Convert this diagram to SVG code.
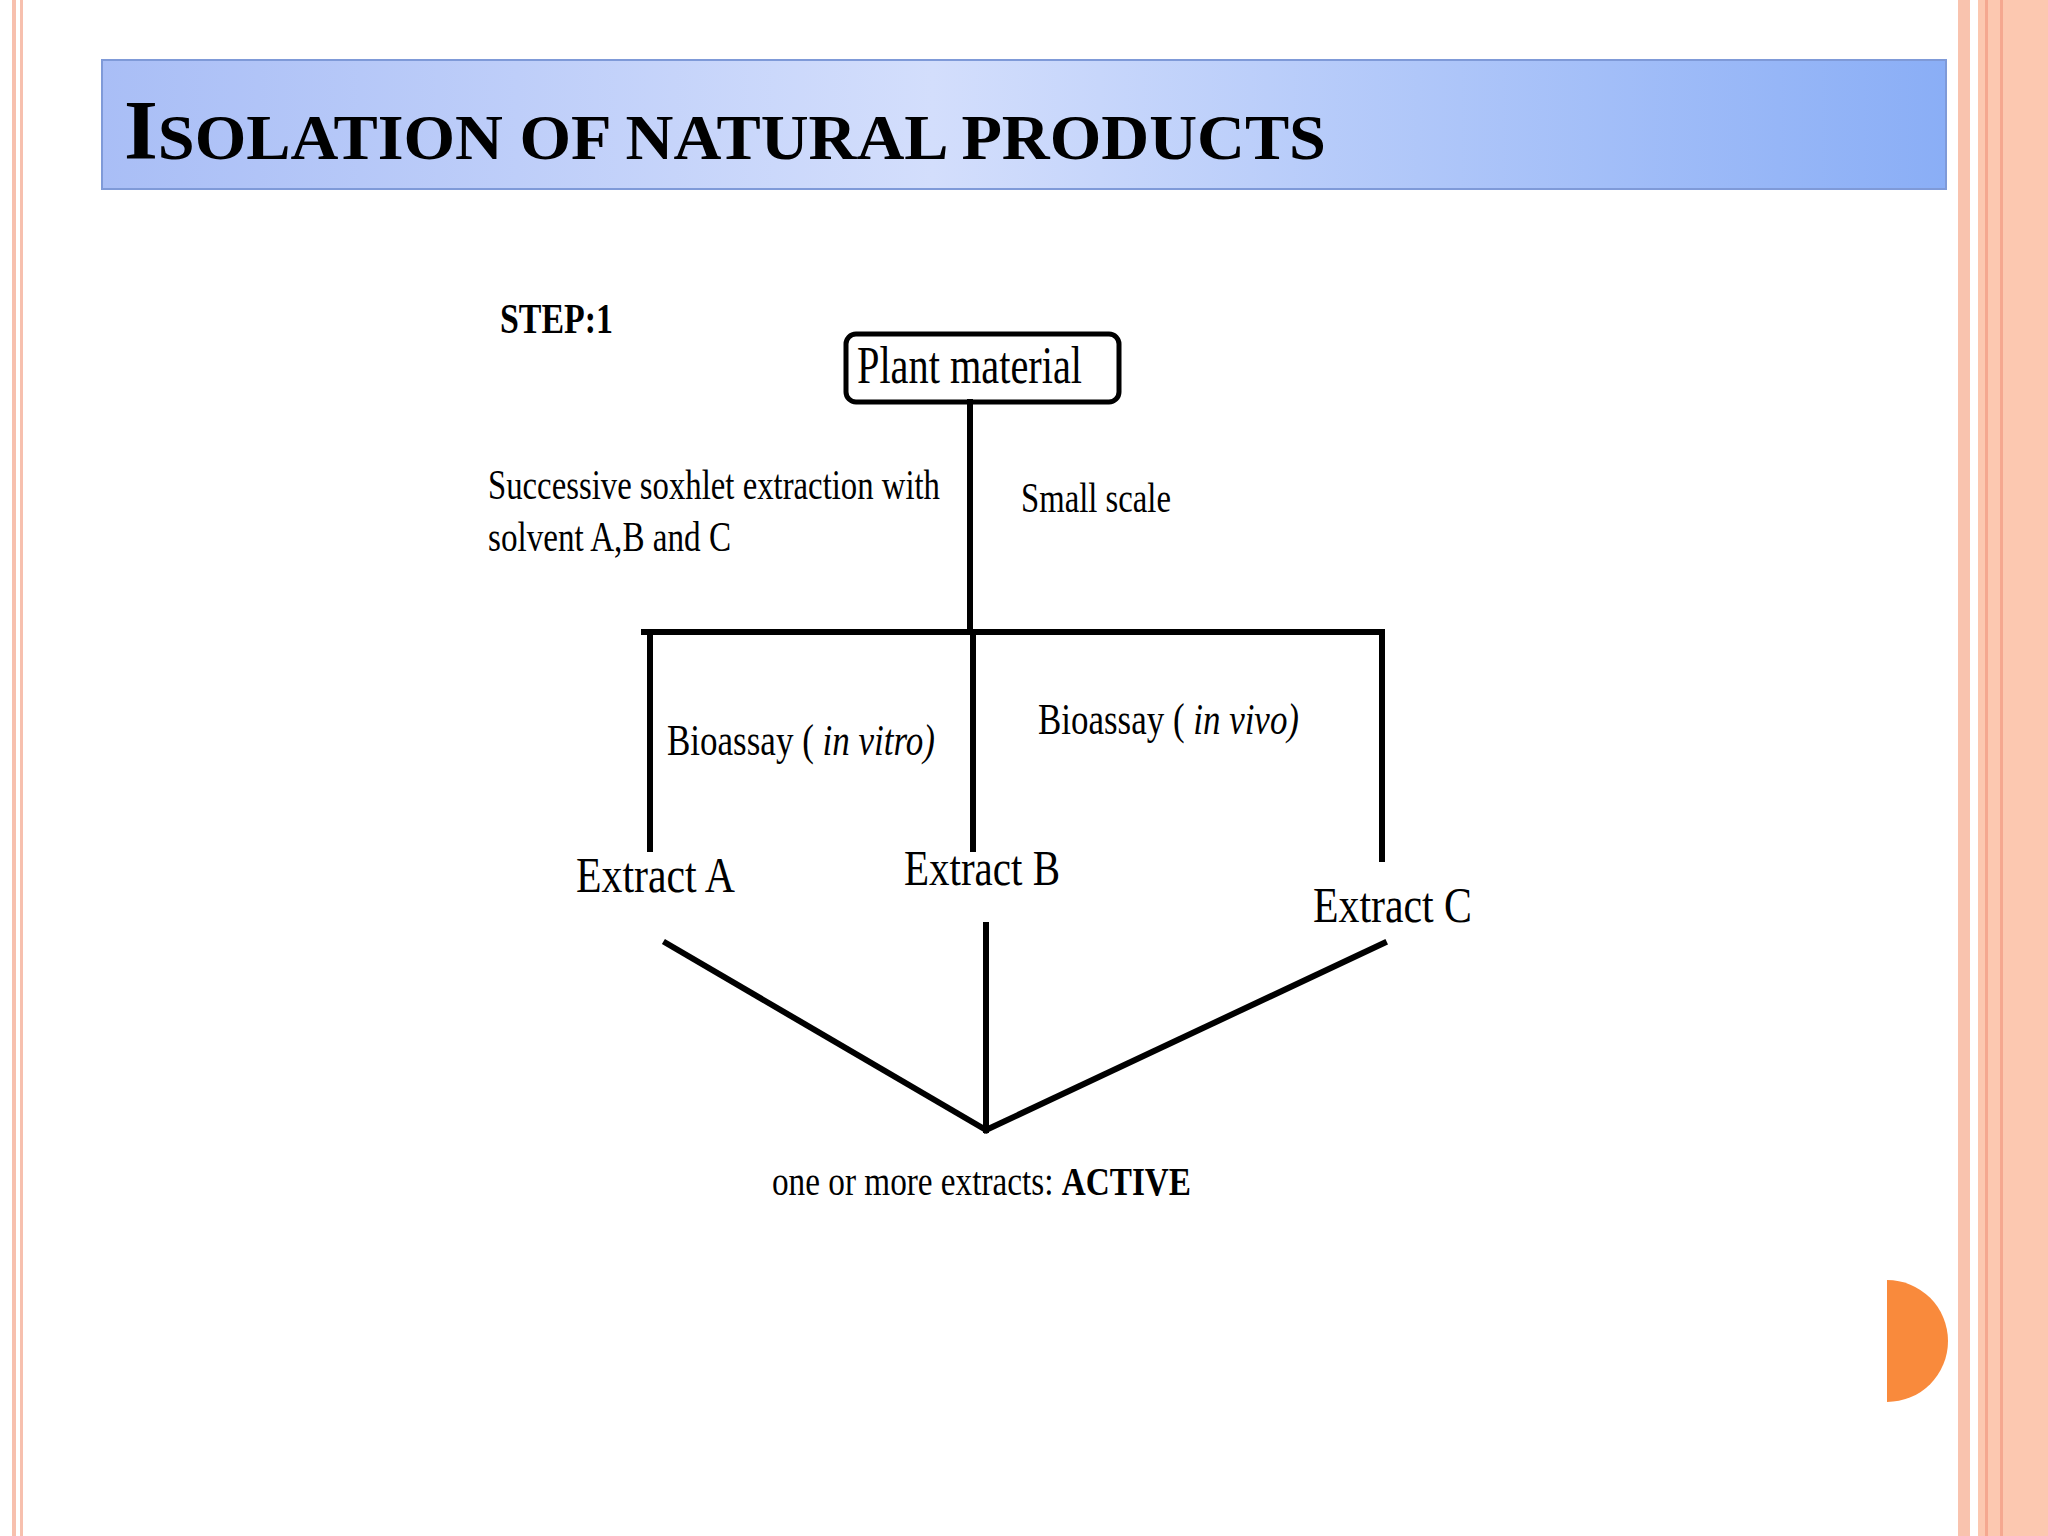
<svg xmlns="http://www.w3.org/2000/svg" width="2048" height="1536" viewBox="0 0 2048 1536">
<defs>
<linearGradient id="tb" x1="0" y1="0" x2="1" y2="0">
<stop offset="0" stop-color="#a9bef6"/><stop offset="0.45" stop-color="#d3defc"/><stop offset="1" stop-color="#8aaef6"/>
</linearGradient>
<style>
.t{font-family:"Liberation Serif",serif;fill:#000}
.ln{stroke:#000;stroke-width:6;fill:none;stroke-linecap:square}
</style>
</defs>
<rect width="2048" height="1536" fill="#fff"/>
<g id="border">
<rect x="12" y="0" width="4" height="1536" fill="#f7c0ae"/>
<rect x="20" y="0" width="3" height="1536" fill="#f7c0ae"/>
<rect x="1958" y="0" width="12" height="1536" fill="#f9c3ae"/>
<rect x="1978" y="0" width="70" height="1536" fill="#fcc8b0"/>
<rect x="1985" y="0" width="3" height="1536" fill="#f5a890"/>
<rect x="2000" y="0" width="3" height="1536" fill="#f5a890"/>
<path d="M1887,1280 A61,61 0 0 1 1887,1402 Z" fill="#f98a3c"/>
</g>
<g id="title">
<rect x="102" y="60" width="1844" height="129" fill="url(#tb)" stroke="#7f9ad8" stroke-width="2"/>
<text class="t" x="124" y="159" font-weight="bold" textLength="1202" lengthAdjust="spacingAndGlyphs"><tspan font-size="84">I</tspan><tspan font-size="64">SOLATION OF NATURAL PRODUCTS</tspan></text>
</g>
<g id="step"><text class="t" x="500" y="333" font-size="42" font-weight="bold" textLength="113" lengthAdjust="spacingAndGlyphs">STEP:1</text></g>
<g id="plant">
<rect x="846" y="334" width="273" height="68" rx="10" fill="#fff" stroke="#000" stroke-width="5"/>
<text class="t" x="857" y="383" font-size="52" textLength="225" lengthAdjust="spacingAndGlyphs">Plant material</text>
</g>
<g id="connectors">
<line class="ln" x1="970" y1="402" x2="970" y2="627"/>
<line class="ln" x1="644" y1="632" x2="1380" y2="632"/>
<line class="ln" x1="650" y1="632" x2="650" y2="849"/>
<line class="ln" x1="973" y1="632" x2="973" y2="849"/>
<line class="ln" x1="1382" y1="632" x2="1382" y2="859"/>
<line class="ln" x1="666" y1="943" x2="986" y2="1130"/>
<line class="ln" x1="986" y1="925" x2="986" y2="1130"/>
<line class="ln" x1="1384" y1="943" x2="986" y2="1130"/>
</g>
<g id="labels">
<text class="t" x="488" y="499" font-size="42" textLength="452" lengthAdjust="spacingAndGlyphs">Successive soxhlet extraction with</text>
<text class="t" x="488" y="551" font-size="42" textLength="243" lengthAdjust="spacingAndGlyphs">solvent A,B and C</text>
<text class="t" x="1021" y="512" font-size="42" textLength="150" lengthAdjust="spacingAndGlyphs">Small scale</text>
<text class="t" x="667" y="755" font-size="44" textLength="268" lengthAdjust="spacingAndGlyphs">Bioassay ( <tspan font-style="italic">in vitro)</tspan></text>
<text class="t" x="1038" y="734" font-size="44" textLength="261" lengthAdjust="spacingAndGlyphs">Bioassay ( <tspan font-style="italic">in vivo)</tspan></text>
<text class="t" x="772" y="1195" font-size="40" textLength="419" lengthAdjust="spacingAndGlyphs">one or more extracts: <tspan font-weight="bold">ACTIVE</tspan></text>
</g>
<g id="extractA"><text class="t" x="576" y="892" font-size="50" textLength="159" lengthAdjust="spacingAndGlyphs">Extract A</text></g>
<g id="extractB"><text class="t" x="904" y="885" font-size="50" textLength="156" lengthAdjust="spacingAndGlyphs">Extract B</text></g>
<g id="extractC"><text class="t" x="1313" y="922" font-size="50" textLength="159" lengthAdjust="spacingAndGlyphs">Extract C</text></g>
</svg>
